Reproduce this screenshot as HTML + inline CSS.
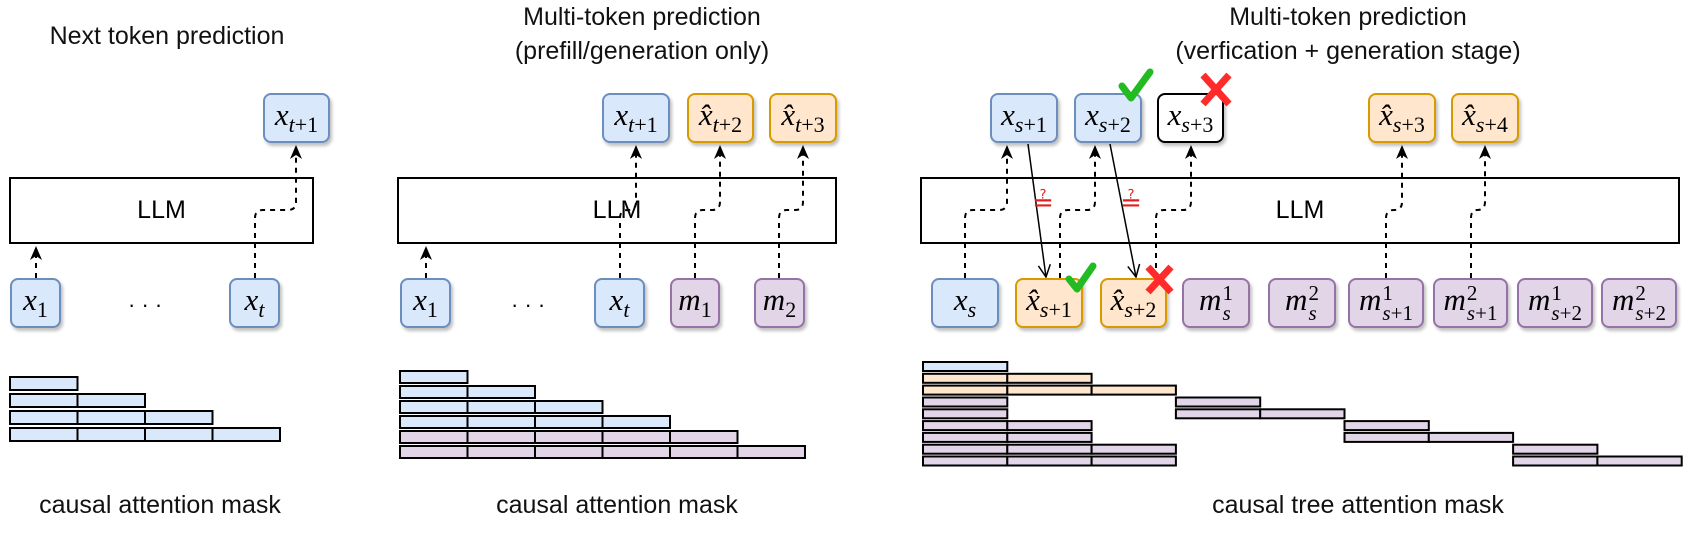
<!DOCTYPE html>
<html><head><meta charset="utf-8"><style>
body{margin:0;width:1693px;height:533px;background:#fff;position:relative;overflow:hidden;font-family:"Liberation Sans",sans-serif}
.t{position:absolute;font-size:25px;color:#111;text-align:center;line-height:34px;white-space:nowrap;transform:translateX(-50%)}
.b{position:absolute;box-sizing:border-box;border:2px solid;border-radius:8px;display:flex;align-items:center;justify-content:center;font-family:"Liberation Serif",serif;font-style:italic;font-size:31px;color:#000;box-shadow:2px 3px 3px rgba(0,0,0,0.25)}
.b sub,.b sup{font-style:normal;font-size:22px}
.b sub i,.b sup i{font-style:italic}
.bl{background:#dae8fc;border-color:#6c8ebf}
.or{background:#ffe6cc;border-color:#d79b00}
.pu{background:#e1d5e7;border-color:#9673a6}
.wh{background:#fff;border-color:#000}
.llm{position:absolute;box-sizing:border-box;border:2px solid #000;background:#fff;top:177px;height:67px;font-size:25px;display:flex;align-items:center;justify-content:center}
.ms{line-height:0.9}
.ms .ss{display:inline-flex;flex-direction:column;font-style:normal;font-size:21px;vertical-align:middle;line-height:20px;margin-left:1px}
</style></head><body>
<div class="t" style="left:167px;top:19px">Next token prediction</div>
<div class="t" style="left:642px;top:0px">Multi-token prediction<br>(prefill/generation only)</div>
<div class="t" style="left:1348px;top:0px">Multi-token prediction<br>(verfication + generation stage)</div>

<div class="llm" style="left:9px;width:305px">LLM</div>
<div class="llm" style="left:397px;width:440px">LLM</div>
<div class="llm" style="left:920px;width:760px">LLM</div>

<svg width="1693" height="533" style="position:absolute;left:0;top:0">
<g fill="none" stroke="#000" stroke-width="2" stroke-dasharray="5,5">
<path d="M36,278 V256"/>
<path d="M255,278 V218 Q255,210 263,210 H288 Q296,210 296,202 V155"/>
<path d="M426,278 V256"/>
<path d="M620,278 V218 Q620,210 628,210 H628 Q636,210 636,202 V155"/>
<path d="M695,278 V218 Q695,210 703,210 H712 Q720,210 720,202 V155"/>
<path d="M779,278 V218 Q779,210 787,210 H795 Q803,210 803,202 V155"/>
<path d="M965,278 V218 Q965,210 973,210 H999 Q1007,210 1007,202 V155"/>
<path d="M1060,278 V218 Q1060,210 1068,210 H1087 Q1095,210 1095,202 V155"/>
<path d="M1156,278 V218 Q1156,210 1164,210 H1183 Q1191,210 1191,202 V155"/>
<path d="M1386,278 V218 Q1386,210 1394,210 H1394 Q1402,210 1402,202 V155"/>
<path d="M1471,278 V218 Q1471,210 1477,210 H1477 Q1485,210 1485,202 V155"/>
</g>
<g fill="#000">
<path d="M30,260 L36,246 L42,260 L36,256 Z"/>
<path d="M420,260 L426,246 L432,260 L426,256 Z"/>
<path d="M290,159 L296,145 L302,159 L296,155 Z"/>
<path d="M630,159 L636,145 L642,159 L636,155 Z"/>
<path d="M714,159 L720,145 L726,159 L720,155 Z"/>
<path d="M797,159 L803,145 L809,159 L803,155 Z"/>
<path d="M1001,159 L1007,145 L1013,159 L1007,155 Z"/>
<path d="M1089,159 L1095,145 L1101,159 L1095,155 Z"/>
<path d="M1185,159 L1191,145 L1197,159 L1191,155 Z"/>
<path d="M1396,159 L1402,145 L1408,159 L1402,155 Z"/>
<path d="M1479,159 L1485,145 L1491,159 L1485,155 Z"/>
</g>
<g stroke="#000" stroke-width="1.5" fill="none">
<line x1="1028" y1="144" x2="1046" y2="277"/>
<line x1="1110" y1="144" x2="1136" y2="277"/>
<path d="M1050.3,264.3 L1046,277 L1038.4,265.9"/>
<path d="M1139.6,264 L1136,277 L1127.8,266.4"/>
</g>
<text x="1043" y="211" fill="#e02020" font-size="26" text-anchor="middle" font-family="DejaVu Sans">≟</text>
<text x="1131" y="211" fill="#e02020" font-size="26" text-anchor="middle" font-family="DejaVu Sans">≟</text>
</svg>

<div class="b bl" style="left:263px;top:93px;width:67px;height:50px"><span>x<sub><i>t</i>+1</sub></span></div>
<div class="b bl" style="left:10px;top:278px;width:51px;height:50px"><span>x<sub>1</sub></span></div>
<div style="position:absolute;left:128px;top:292px;font-size:22px">· · ·</div>
<div class="b bl" style="left:229px;top:278px;width:51px;height:50px"><span>x<sub><i>t</i></sub></span></div>

<div class="b bl" style="left:602px;top:93px;width:68px;height:50px"><span>x<sub><i>t</i>+1</sub></span></div>
<div class="b or" style="left:687px;top:93px;width:67px;height:50px"><span>x̂<sub><i>t</i>+2</sub></span></div>
<div class="b or" style="left:769px;top:93px;width:68px;height:50px"><span>x̂<sub><i>t</i>+3</sub></span></div>
<div class="b bl" style="left:400px;top:278px;width:51px;height:50px"><span>x<sub>1</sub></span></div>
<div style="position:absolute;left:511px;top:292px;font-size:22px">· · ·</div>
<div class="b bl" style="left:594px;top:278px;width:51px;height:50px"><span>x<sub><i>t</i></sub></span></div>
<div class="b pu" style="left:670px;top:278px;width:50px;height:50px"><span>m<sub>1</sub></span></div>
<div class="b pu" style="left:754px;top:278px;width:51px;height:50px"><span>m<sub>2</sub></span></div>

<div class="b bl" style="left:990px;top:93px;width:68px;height:50px"><span>x<sub><i>s</i>+1</sub></span></div>
<div class="b bl" style="left:1074px;top:93px;width:68px;height:50px"><span>x<sub><i>s</i>+2</sub></span></div>
<div class="b wh" style="left:1157px;top:93px;width:67px;height:50px"><span>x<sub><i>s</i>+3</sub></span></div>
<div class="b or" style="left:1368px;top:93px;width:68px;height:50px"><span>x̂<sub><i>s</i>+3</sub></span></div>
<div class="b or" style="left:1451px;top:93px;width:68px;height:50px"><span>x̂<sub><i>s</i>+4</sub></span></div>

<div class="b bl" style="left:931px;top:278px;width:68px;height:50px"><span>x<sub><i>s</i></sub></span></div>
<div class="b or" style="left:1015px;top:278px;width:68px;height:50px"><span>x̂<sub><i>s</i>+1</sub></span></div>
<div class="b or" style="left:1100px;top:278px;width:67px;height:50px"><span>x̂<sub><i>s</i>+2</sub></span></div>
<div class="b pu ms" style="left:1182px;top:278px;width:68px;height:50px"><span>m<span class="ss"><span>1</span><i>s</i></span></span></div>
<div class="b pu ms" style="left:1268px;top:278px;width:68px;height:50px"><span>m<span class="ss"><span>2</span><i>s</i></span></span></div>
<div class="b pu ms" style="left:1348px;top:278px;width:76px;height:50px"><span>m<span class="ss"><span>1</span><span><i>s</i>+1</span></span></span></div>
<div class="b pu ms" style="left:1433px;top:278px;width:75px;height:50px"><span>m<span class="ss"><span>2</span><span><i>s</i>+1</span></span></span></div>
<div class="b pu ms" style="left:1517px;top:278px;width:76px;height:50px"><span>m<span class="ss"><span>1</span><span><i>s</i>+2</span></span></span></div>
<div class="b pu ms" style="left:1601px;top:278px;width:76px;height:50px"><span>m<span class="ss"><span>2</span><span><i>s</i>+2</span></span></span></div>

<svg width="1693" height="533" style="position:absolute;left:0;top:0">
<g stroke="#22bb22" stroke-width="7" fill="none" stroke-linecap="round" stroke-linejoin="round">
<path d="M1122,86 L1131,98 L1150,72"/>
<path d="M1069,279 L1077,289 L1093,266"/>
</g>
<g stroke="#ff2a2a" stroke-width="7">
<path d="M1203,75 L1229,104 M1229,75 L1203,104"/>
<path d="M1148,267 L1171,292 M1171,267 L1148,292"/>
</g>
<g stroke="#000" stroke-width="2">
<g fill="#dae8fc">
<rect x="10" y="377" width="67.5" height="13"/>
<rect x="10" y="394" width="67.5" height="13"/><rect x="77.5" y="394" width="67.5" height="13"/>
<rect x="10" y="411" width="67.5" height="13"/><rect x="77.5" y="411" width="67.5" height="13"/><rect x="145" y="411" width="67.5" height="13"/>
<rect x="10" y="428" width="67.5" height="13"/><rect x="77.5" y="428" width="67.5" height="13"/><rect x="145" y="428" width="67.5" height="13"/><rect x="212.5" y="428" width="67.5" height="13"/>
<rect x="400" y="371" width="67.5" height="12"/>
<rect x="400" y="386" width="67.5" height="12"/><rect x="467.5" y="386" width="67.5" height="12"/>
<rect x="400" y="401" width="67.5" height="12"/><rect x="467.5" y="401" width="67.5" height="12"/><rect x="535" y="401" width="67.5" height="12"/>
<rect x="400" y="416" width="67.5" height="12"/><rect x="467.5" y="416" width="67.5" height="12"/><rect x="535" y="416" width="67.5" height="12"/><rect x="602.5" y="416" width="67.5" height="12"/>
<rect x="923" y="362" width="84.3" height="9"/>
</g>
<g fill="#e1d5e7">
<rect x="400" y="431" width="67.5" height="12"/><rect x="467.5" y="431" width="67.5" height="12"/><rect x="535" y="431" width="67.5" height="12"/><rect x="602.5" y="431" width="67.5" height="12"/><rect x="670" y="431" width="67.5" height="12"/>
<rect x="400" y="446" width="67.5" height="12"/><rect x="467.5" y="446" width="67.5" height="12"/><rect x="535" y="446" width="67.5" height="12"/><rect x="602.5" y="446" width="67.5" height="12"/><rect x="670" y="446" width="67.5" height="12"/><rect x="737.5" y="446" width="67.5" height="12"/>
<rect x="923" y="397.5" width="84.3" height="9"/><rect x="1175.9" y="397.5" width="84.3" height="9"/>
<rect x="923" y="409.3" width="84.3" height="9"/><rect x="1175.9" y="409.3" width="84.3" height="9"/><rect x="1260.2" y="409.3" width="84.3" height="9"/>
<rect x="923" y="421.1" width="84.3" height="9"/><rect x="1007.3" y="421.1" width="84.3" height="9"/><rect x="1344.5" y="421.1" width="84.3" height="9"/>
<rect x="923" y="432.9" width="84.3" height="9"/><rect x="1007.3" y="432.9" width="84.3" height="9"/><rect x="1344.5" y="432.9" width="84.3" height="9"/><rect x="1428.8" y="432.9" width="84.3" height="9"/>
<rect x="923" y="444.7" width="84.3" height="9"/><rect x="1007.3" y="444.7" width="84.3" height="9"/><rect x="1091.6" y="444.7" width="84.3" height="9"/><rect x="1513.1" y="444.7" width="84.3" height="9"/>
<rect x="923" y="456.5" width="84.3" height="9"/><rect x="1007.3" y="456.5" width="84.3" height="9"/><rect x="1091.6" y="456.5" width="84.3" height="9"/><rect x="1513.1" y="456.5" width="84.3" height="9"/><rect x="1597.4" y="456.5" width="84.3" height="9"/>
</g>
<g fill="#ffe6cc">
<rect x="923" y="373.8" width="84.3" height="9"/><rect x="1007.3" y="373.8" width="84.3" height="9"/>
<rect x="923" y="385.6" width="84.3" height="9"/><rect x="1007.3" y="385.6" width="84.3" height="9"/><rect x="1091.6" y="385.6" width="84.3" height="9"/>
</g>
</g>
</svg>

<div class="t" style="left:160px;top:488px">causal attention mask</div>
<div class="t" style="left:617px;top:488px">causal attention mask</div>
<div class="t" style="left:1358px;top:488px">causal tree attention mask</div>
</body></html>
